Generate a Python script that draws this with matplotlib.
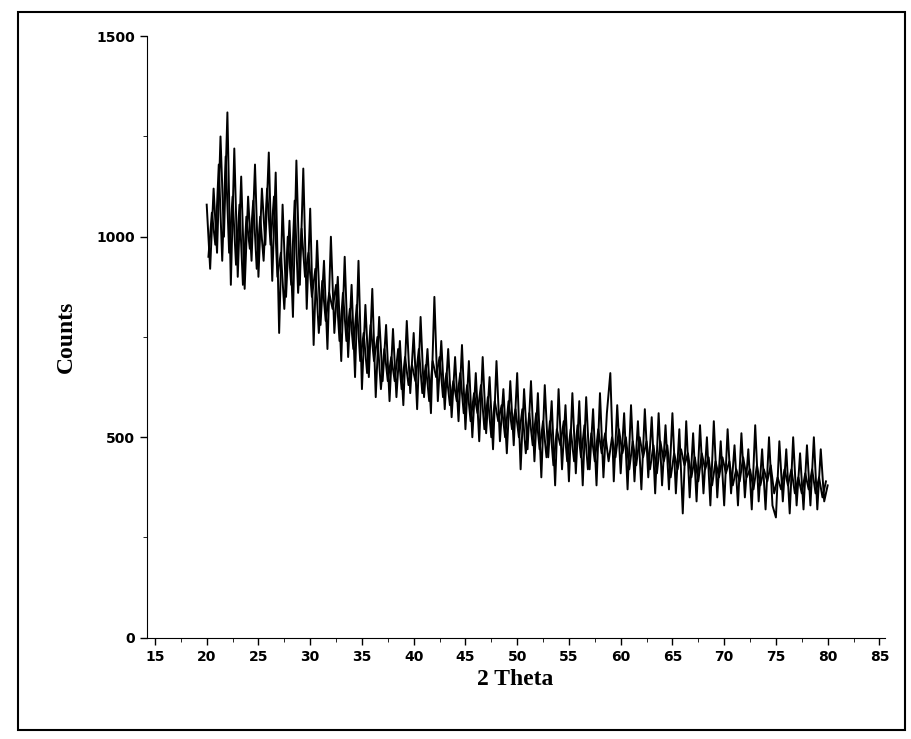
import numpy as np
import matplotlib
matplotlib.use("Agg")
import matplotlib.pyplot as plt
from matplotlib.patches import Rectangle
from matplotlib.ticker import MultipleLocator

# counts, 3 readings per degree from 20 to 80
counts = [
    1080, 920, 1120,  960, 1250, 1000,  1310, 880, 1220,  900, 1150, 870,
    1100, 940, 1180,  900, 1120, 980,  1210, 890, 1160,  760, 1080, 850,
    1040, 800, 1190,  880, 1170, 820,  1070, 730, 990,  780, 940, 720,
    1000, 760, 900,  690, 950, 700,  880, 650, 940,  620, 830, 650,
    870, 600, 800,  640, 780, 590,  770, 600, 740,  580, 790, 610,
    760, 570, 800,  600, 720, 560,  850, 590, 740,  570, 720, 550,
    700, 540, 730,  520, 690, 500,  660, 490, 700,  510, 650, 470,
    690, 490, 620,  460, 640, 480,  660, 420, 620,  470, 640, 440,
    610, 400, 630,  450, 590, 380,  620, 420, 580,  390, 610, 410,
    590, 380, 600,  420, 570, 380,  610, 400, 560,  660, 390, 580,
    410, 560, 370,  580, 390, 540,  370, 570, 400,  550, 360, 560,
    380, 530, 370,  560, 360, 520,  310, 540, 350,  510, 340, 530,
    360, 500, 330,  540, 350, 490,  330, 520, 360,  480, 330, 510,
    350, 470, 320,  530, 340, 470,  320, 500, 330,  300, 490, 340,
    470, 310, 500,  330, 460, 320,  480, 330, 500,  320, 470, 340,
    380,
]
# second pass of readings, taken in between the ones above
counts_mid = [
    950, 1060, 980,  1180, 940, 1200,  960, 1100, 930,  1080, 880, 1050,
    970, 1090, 920,  1050, 940, 1120,  980, 1100, 900,  960, 820, 1000,
    880, 1090, 860,  1020, 900, 960,  850, 920, 760,  890, 790, 860,
    820, 880, 740,  860, 740, 820,  720, 830, 690,  760, 660, 780,
    690, 750, 620,  720, 640, 700,  640, 720, 620,  700, 630, 680,
    640, 720, 610,  680, 590, 690,  650, 700, 600,  660, 580, 640,
    590, 660, 560,  630, 540, 610,  560, 630, 520,  600, 500, 590,
    540, 580, 500,  590, 520, 570,  500, 570, 460,  560, 480, 560,
    470, 540, 450,  540, 430, 520,  480, 540, 440,  520, 440, 530,
    450, 530, 420,  510, 440, 520,  460, 510, 440,  500, 450, 520,
    460, 500, 420,  490, 430, 500,  450, 490, 420,  480, 410, 490,
    440, 480, 400,  460, 420, 470,  430, 460, 400,  450, 390, 460,
    420, 450, 380,  440, 400, 450,  410, 440, 380,  420, 390, 450,
    400, 420, 370,  430, 380, 420,  390, 430, 360,  400, 370, 420,
    380, 420, 360,  400, 360, 410,  370, 420, 360,  400, 350, 390,
]

theta = np.linspace(20, 80, len(counts))
step = theta[1] - theta[0]
theta_mid = theta[:-1] + step / 2

fig = plt.figure(figsize=(9.11, 7.39), dpi=100)
fig.patches.append(Rectangle((18/911, 1-730/739), 887/911, 718/739, transform=fig.transFigure,
                             fill=False, edgecolor="black", linewidth=1.5))
ax = fig.add_axes([0.161, 0.137, 0.81, 0.814])
ax.plot(theta, counts, color="black", linewidth=1.4)
ax.plot(theta_mid, counts_mid, color="black", linewidth=1.4)

ax.set_xlim(14.2, 85.5)
ax.set_ylim(0, 1500)
ax.spines["top"].set_visible(False)
ax.spines["right"].set_visible(False)
ax.xaxis.set_major_locator(MultipleLocator(5))
ax.xaxis.set_minor_locator(MultipleLocator(2.5))
ax.yaxis.set_major_locator(MultipleLocator(500))
ax.yaxis.set_minor_locator(MultipleLocator(250))
ax.tick_params(direction="out", length=5, width=1, labelsize=10)
ax.tick_params(which="minor", length=3)
for t in ax.get_xticklabels() + ax.get_yticklabels():
    t.set_fontweight("bold")
ax.set_xlabel("2 Theta", family="Liberation Serif", fontweight="bold", fontsize=17)
ax.set_ylabel("Counts", family="Liberation Serif", fontweight="bold", fontsize=17, labelpad=14)
fig.savefig("out.png")
